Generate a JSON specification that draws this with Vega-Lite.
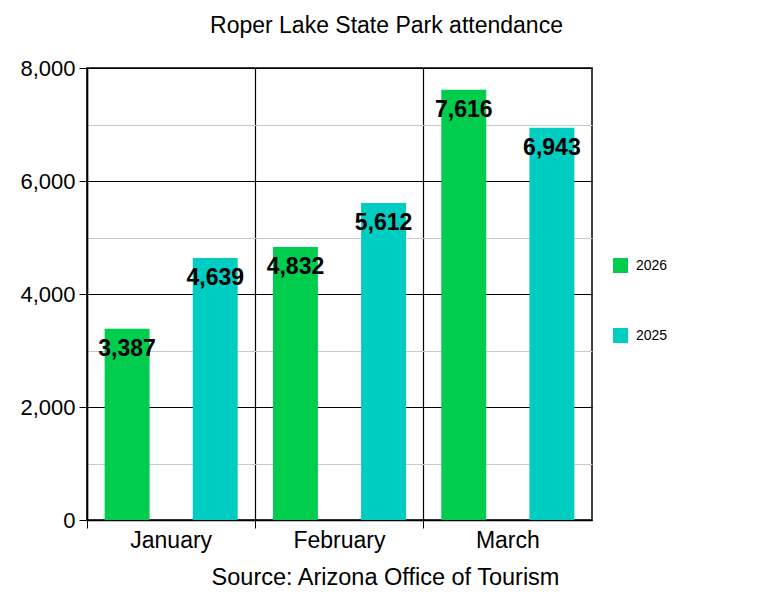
{
  "$schema": "https://vega.github.io/schema/vega-lite/v6.json",
  "autosize": {"type": "none"},
  "padding": {"left": 87, "top": 68, "right": 176, "bottom": 72},
  "width": 505,
  "height": 452,
  "background": "#ffffff",
  "title": {
    "text": "Roper Lake State Park attendance",
    "anchor": "middle",
    "dx": 47,
    "offset": 19,
    "fontSize": 23,
    "fontWeight": "normal",
    "font": "Liberation Sans",
    "color": "#000000"
  },
  "data": {
    "values": [
      {"Month": "January", "Year": "2026", "Attendance": 3387},
      {"Month": "January", "Year": "2025", "Attendance": 4639},
      {"Month": "February", "Year": "2026", "Attendance": 4832},
      {"Month": "February", "Year": "2025", "Attendance": 5612},
      {"Month": "March", "Year": "2026", "Attendance": 7616},
      {"Month": "March", "Year": "2025", "Attendance": 6943}
    ]
  },
  "encoding": {
    "x": {
      "field": "Month",
      "type": "nominal",
      "sort": ["January", "February", "March"],
      "scale": {"paddingInner": 0, "paddingOuter": 0},
      "axis": {
        "title": "Source: Arizona Office of Tourism",
        "titleX": 298,
        "titleY": 64,
        "titleAlign": "center",
        "titleBaseline": "alphabetic",
        "titleFontSize": 23.5,
        "titleFontWeight": "normal",
        "titleColor": "#000000",
        "labelAngle": 0,
        "labelFontSize": 23,
        "labelColor": "#000000",
        "labelPadding": 1,
        "bandPosition": 0,
        "grid": true,
        "gridColor": "#000000",
        "gridWidth": 1.2,
        "tickColor": "#000000",
        "tickSize": 8,
        "domainColor": "#000000",
        "domainWidth": 1.5
      }
    },
    "xOffset": {
      "field": "Year",
      "sort": ["2026", "2025"],
      "scale": {"paddingInner": 0.49, "paddingOuter": 0.2}
    },
    "y": {
      "field": "Attendance",
      "type": "quantitative",
      "scale": {"domain": [0, 8000], "nice": false},
      "axis": {
        "title": null,
        "values": [0, 1000, 2000, 3000, 4000, 5000, 6000, 7000, 8000],
        "labelExpr": "datum.value % 2000 === 0 ? format(datum.value, ',') : ''",
        "labelFontSize": 22,
        "labelColor": "#000000",
        "labelPadding": 4,
        "tickSize": 8,
        "tickColor": {
          "condition": {"test": "datum.value % 2000 === 0", "value": "#000000"},
          "value": "transparent"
        },
        "gridColor": {
          "condition": {"test": "datum.value % 2000 === 0", "value": "#000000"},
          "value": "#c8c8c8"
        },
        "gridWidth": 1.2,
        "domainColor": "#000000",
        "domainWidth": 1.5
      }
    }
  },
  "layer": [
    {
      "mark": {"type": "bar"},
      "encoding": {
        "color": {
          "field": "Year",
          "type": "nominal",
          "sort": ["2026", "2025"],
          "scale": {"domain": ["2026", "2025"], "range": ["#00cc4e", "#00cdc2"]},
          "legend": {
            "orient": "none",
            "legendX": 526,
            "legendY": 190,
            "title": null,
            "symbolType": "square",
            "symbolSize": 225,
            "symbolStrokeWidth": 0,
            "symbolOpacity": 1,
            "labelFontSize": 14,
            "labelColor": "#000000",
            "labelOffset": 8,
            "rowPadding": 55
          }
        }
      }
    },
    {
      "mark": {
        "type": "text",
        "baseline": "middle",
        "align": "center",
        "dy": 20,
        "fontSize": 23,
        "fontWeight": "bold",
        "color": "#000000"
      },
      "encoding": {
        "text": {"field": "Attendance", "type": "quantitative", "format": ","}
      }
    }
  ],
  "config": {
    "font": "Liberation Sans",
    "view": {"stroke": "#000000", "strokeWidth": 1.5}
  }
}
